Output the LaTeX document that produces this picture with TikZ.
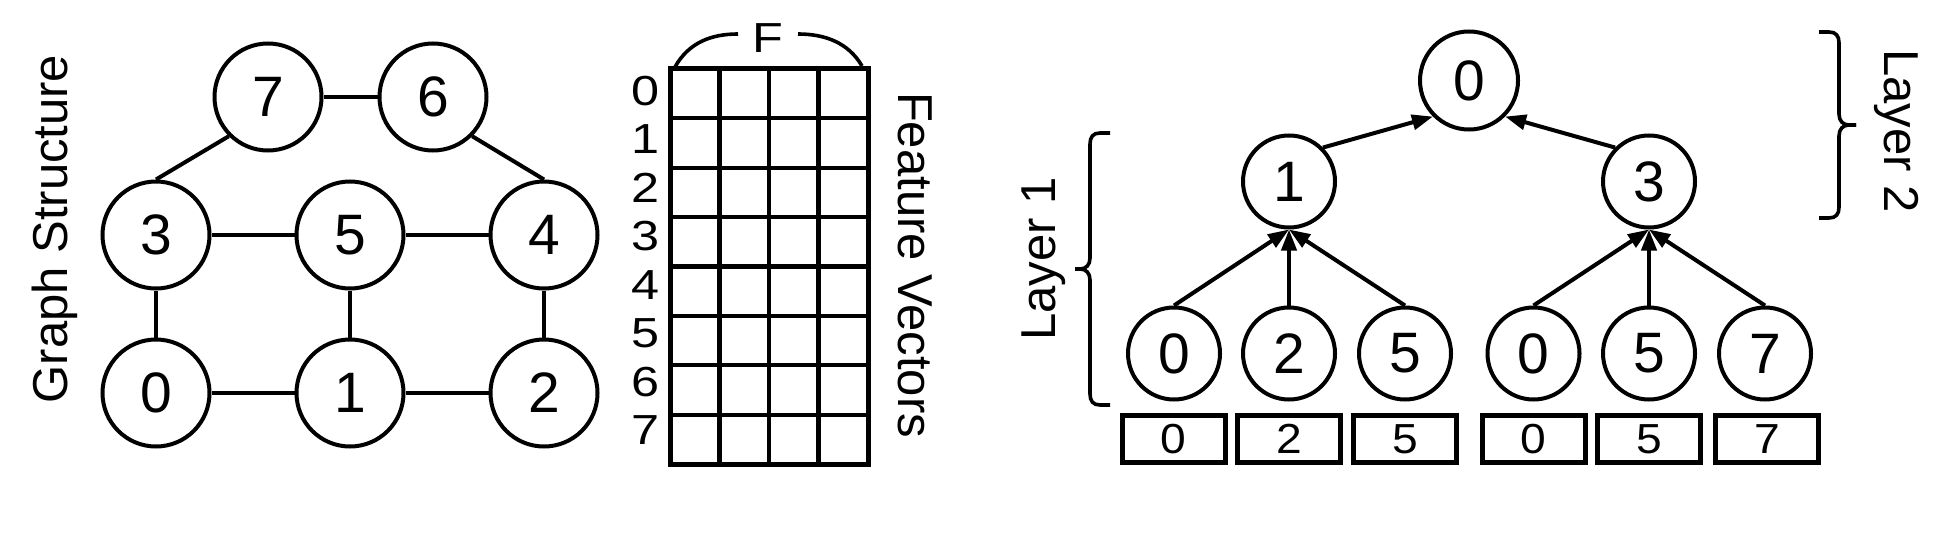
\documentclass[tikz,border=0pt]{standalone}
\usepackage{fontspec}
\setmainfont{Liberation Sans}
\newfontfamily\widedigits[FakeStretch=1.2]{Liberation Sans}
\newfontfamily\boxdigits[FakeStretch=1.1]{Liberation Sans}
\usetikzlibrary{arrows.meta}
\begin{document}
\begin{tikzpicture}[x=0.5pt,y=-0.5pt,
  gnode/.style={circle,draw,line width=2pt,minimum size=53.5pt,inner sep=0pt,font=\fontsize{28.5}{30}\selectfont},
  tnode/.style={circle,draw,line width=2pt,minimum size=46pt,inner sep=0pt,font=\fontsize{28.5}{30}\selectfont},
  rnode/.style={circle,draw,line width=2pt,minimum size=49pt,inner sep=0pt,font=\fontsize{28.5}{30}\selectfont},
  lbl/.style={font=\fontsize{24.5}{26}\selectfont,inner sep=0pt},
  rowlbl/.style={font=\widedigits\fontsize{21}{23}\selectfont,inner sep=0pt},
  vbox/.style={draw,line width=2.5pt,minimum width=51.5pt,minimum height=23.5pt,inner sep=0pt,font=\boxdigits\fontsize{21}{23}\selectfont},
  edge/.style={line width=2pt},
  arr/.style={line width=2pt,-{Triangle[length=10.5pt,width=7.5pt]}},
  bracepath/.style={line width=1.8pt}
]
\useasboundingbox (0,0) rectangle (1952,540);

% ---------- Graph structure ----------
\node[lbl,rotate=90,anchor=base] (gs) at (67,229) {Graph Structure};
\node[gnode] (g7) at (268,97) {7};
\node[gnode] (g6) at (433,97) {6};
\node[gnode] (g3) at (156,235) {3};
\node[gnode] (g5) at (350,235) {5};
\node[gnode] (g4) at (544,235) {4};
\node[gnode] (g0) at (156,393) {0};
\node[gnode] (g1) at (350,393) {1};
\node[gnode] (g2) at (544,393) {2};
\draw[edge] (g7) -- (g6);
\draw[edge] (g7.south west) -- (g3.north);
\draw[edge] (g6.south east) -- (g4.north);
\draw[edge] (g3) -- (g5);
\draw[edge] (g5) -- (g4);
\draw[edge] (g3) -- (g0);
\draw[edge] (g5) -- (g1);
\draw[edge] (g4) -- (g2);
\draw[edge] (g0) -- (g1);
\draw[edge] (g1) -- (g2);

% ---------- Feature vectors ----------
\foreach \i in {1,...,7} \draw[line width=2.1pt] (670,{69+49.375*\i}) -- (868,{69+49.375*\i});
\foreach \j in {1,...,3} \draw[line width=2.1pt] ({670+49.5*\j},69) -- ({670+49.5*\j},464);
\draw[line width=2.5pt] (670,69) rectangle (868,464);
\foreach \i in {0,...,7} \node[rowlbl] (row\i) at (646,{91+48.5*\i}) {\i};
\node[rowlbl,anchor=base] (F) at (768,53) {F};
\draw[line width=1.8pt] (675,67) .. controls (689,42) and (712,34) .. (738,34);
\draw[line width=1.8pt] (798,34) .. controls (824,34) and (848,42) .. (862,66);
\node[lbl,rotate=-90,anchor=base] (fv) at (898,265) {Feature Vectors};

% ---------- Computation tree ----------
\node[rnode] (root) at (1469,80.5) {0};
\node[tnode] (m1) at (1289,181.5) {1};
\node[tnode] (m3) at (1649,181.5) {3};
\node[tnode] (b0) at (1174,353.5) {0};
\node[tnode] (b2) at (1289,353.5) {2};
\node[tnode] (b5) at (1405,353.5) {5};
\node[tnode] (c0) at (1533.5,353.5) {0};
\node[tnode] (c5) at (1649,353.5) {5};
\node[tnode] (c7) at (1765,353.5) {7};
\draw[arr] (m1.north east) -- (root.south west);
\draw[arr] (m3.north west) -- (root.south east);
\draw[arr] (b0.north) -- (m1.south);
\draw[arr] (b2.north) -- (m1.south);
\draw[arr] (b5.north) -- (m1.south);
\draw[arr] (c0.north) -- (m3.south);
\draw[arr] (c5.north) -- (m3.south);
\draw[arr] (c7.north) -- (m3.south);

\node[vbox] (v0) at (1173.5,439) {0};
\node[vbox] (v2) at (1289,439) {2};
\node[vbox] (v5) at (1405,439) {5};
\node[vbox] (w0) at (1533.5,439) {0};
\node[vbox] (w5) at (1649,439) {5};
\node[vbox] (w7) at (1767,439) {7};

% Layer 1 brace
\draw[bracepath] (1110,133) -- (1100,133) .. controls (1093,133) and (1090,137) .. (1090,144) -- (1090,258)
  .. controls (1090,265) and (1086,269) .. (1080,269) -- (1075,269);
\draw[bracepath] (1075,269) -- (1080,269) .. controls (1086,269) and (1090,273) .. (1090,280) -- (1090,394)
  .. controls (1090,401) and (1093,405) .. (1100,405) -- (1110,405);
\node[lbl,rotate=90,anchor=base] (l1) at (1055,259) {Layer 1};

% Layer 2 brace
\draw[bracepath] (1819,32) -- (1829,32) .. controls (1836,32) and (1839,36) .. (1839,43) -- (1839,114)
  .. controls (1839,121) and (1843,125) .. (1849,125) -- (1856,125);
\draw[bracepath] (1856,125) -- (1849,125) .. controls (1843,125) and (1839,129) .. (1839,136) -- (1839,207)
  .. controls (1839,214) and (1836,218) .. (1829,218) -- (1819,218);
\node[lbl,rotate=-90,anchor=base] (l2) at (1884,131) {Layer 2};
\end{tikzpicture}
\end{document}
